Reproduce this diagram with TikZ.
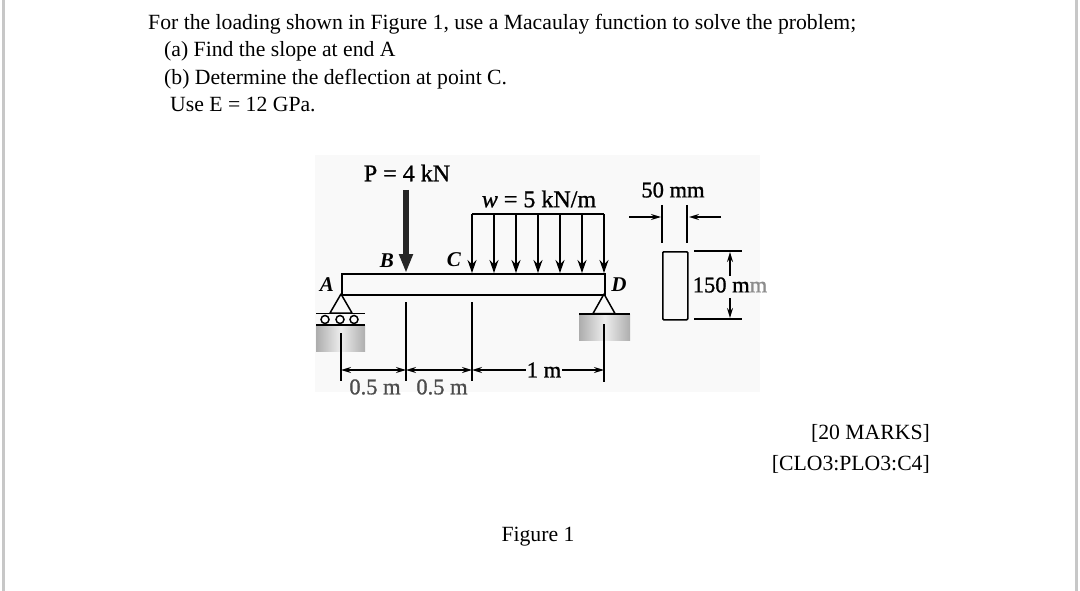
\documentclass[tikz,border=0pt]{standalone}
\usepackage{fontspec}
\usetikzlibrary{arrows.meta,calc}
\newfontfamily\pagefont{Liberation Serif}
\newfontfamily\figfont[FakeBold=1]{Liberation Serif}
\definecolor{figbg}{HTML}{F9F9F9}
\tikzset{
    pagetext/.style={inner sep=0pt, font=\pagefont\fontsize{21.7}{26}\selectfont},
    figtext/.style={inner sep=0pt, font=\figfont\fontsize{22.5}{24}\selectfont},
    loadtext/.style={inner sep=0pt, font=\figfont\fontsize{24}{26}\selectfont},
    pointtext/.style={inner sep=0pt, font=\pagefont\bfseries\itshape\fontsize{21}{24}\selectfont},
    dimtext/.style={inner sep=1pt, fill=figbg, font=\figfont\fontsize{22.5}{24}\selectfont},
    block/.style={inner sep=0pt, left color=black!32, right color=black!32, middle color=black!7},
    loadarrow/.style={-{Stealth[length=13pt,width=9pt]}, line width=1.5pt},
    dimarrow/.style={{Stealth[length=10pt,width=6pt]}-{Stealth[length=10pt,width=6pt]}, line width=1.4pt},
    onearrow/.style={-{Stealth[length=10pt,width=6pt]}, line width=1.4pt},
    edge/.style={line width=1.5pt}
}
\begin{document}
\begin{tikzpicture}[x=1pt, y=-1pt]
    \useasboundingbox (0,0) rectangle (1080,591);

    \fill[black!22] (2,0) rectangle (5,591);
    \fill[black!22] (1075,0) rectangle (1078,591);
    \fill[figbg] (315,155) rectangle (760,392);

    \node[pagetext, anchor=base west] (line1) at (148,30) {For the loading shown in Figure 1, use a Macaulay function to solve the problem;};
    \node[pagetext, anchor=base west] (line2) at (164,57) {(a) Find the slope at end A};
    \node[pagetext, anchor=base west] (line3) at (164,85) {(b) Determine the deflection at point C.};
    \node[pagetext, anchor=base west] (line4) at (170,112) {Use E = 12 GPa.};
    \node[pagetext, anchor=base east] (marks) at (930,439) {[20 MARKS]};
    \node[pagetext, anchor=base east] (clo) at (930,470) {[CLO3:PLO3:C4]};
    \node[pagetext, anchor=base] (figname) at (538,541) {Figure 1};

    % beam
    \node[draw, edge, minimum width=263pt, minimum height=21pt, inner sep=0pt, anchor=north west] (beam) at (341,273) {};
    \coordinate (A) at (341,294);
    \coordinate (B) at (406,273);
    \coordinate (C) at (472,273);
    \coordinate (D) at (604,294);

    % point load
    \coordinate (Ptop) at (406,190);
    \draw[line width=5.5pt, -{Stealth[length=19pt,width=13pt,inset=0pt]}, black!85] (Ptop) -- (B);
    \node[loadtext] (Plabel) at (407,173) {P = 4 kN};

    % distributed load
    \coordinate (wleft) at (472,214);
    \coordinate (wright) at (604,214);
    \draw[edge] (wleft) -- (wright);
    \foreach \i in {0,...,6} {
        \draw[loadarrow] ($(wleft)+(22*\i,0)$) -- ($(C)+(22*\i,0)$);
    }
    \node[loadtext] (wlabel) at (539,199) {\textit{w} = 5 kN/m};

    \node[pointtext] (Alabel) at (327,285) {A};
    \node[pointtext] (Blabel) at (387,261) {B};
    \node[pointtext] (Clabel) at (454,260) {C};
    \node[pointtext] (Dlabel) at (619,285) {D};

    % support at A
    \node[block, minimum width=49pt, minimum height=26pt, anchor=north west] (blockA) at (316,325) {};
    \draw[edge, line join=round] (A) -- (330,313) -- (352,313) -- cycle;
    \draw[edge] (316,313.5) -- (365,313.5);
    \draw[edge] (316,325) -- (365,325);
    \foreach \x in {325,340,354} {
        \draw[edge, fill=white] (\x,319.5) circle (4pt);
    }

    % support at D
    \node[block, minimum width=51pt, minimum height=26pt, anchor=north west] (blockD) at (579,314) {};
    \draw[edge, line join=round] (D) -- (593,313.5) -- (615,313.5) -- cycle;
    \draw[edge] (579,314) -- (630,314);

    % dimensions along the beam
    \coordinate (dimA) at (341,370);
    \coordinate (dimB) at (406,370);
    \coordinate (dimC) at (472,370);
    \coordinate (dimD) at (604,370);
    \draw[edge] (341,333) -- (341,381);
    \draw[edge] (406,302) -- (406,381);
    \draw[edge] (472,302) -- (472,381);
    \draw[edge] (604,324) -- (604,382);
    \draw[dimarrow] (dimA) -- (dimB);
    \draw[dimarrow] (dimB) -- (dimC);
    \node[dimtext] (onem) at (544,370) {1 m};
    \draw[onearrow] (onem) -- (dimC);
    \draw[onearrow] (onem) -- (dimD);
    \node[figtext, text=black!70] (halfA) at (375,387) {0.5 m};
    \node[figtext, text=black!70] (halfB) at (442,387) {0.5 m};

    % cross section
    \node[draw, edge, rounded corners=1pt, minimum width=25pt, minimum height=68pt, inner sep=0pt, anchor=north west] (section) at (662,251) {};
    \draw[edge] (662,205) -- (662,243);
    \draw[edge] (687,205) -- (687,243);
    \coordinate (widthL) at (661,217);
    \coordinate (widthR) at (689,217);
    \coordinate (widthLfar) at (629,217);
    \coordinate (widthRfar) at (721,217);
    \draw[onearrow] (widthLfar) -- (widthL);
    \draw[onearrow] (widthRfar) -- (widthR);
    \node[figtext] (widthlabel) at (673,190) {50 mm};

    \coordinate (heightT) at (730,252);
    \coordinate (heightB) at (730,318);
    \draw[edge] (694,251) -- (742,251);
    \draw[edge] (694,319) -- (742,319);
    \node[figtext] (heightlabel) at (730,285) {150 m\textcolor{black!45}{m}};
    \draw[onearrow] (730,276) -- (heightT);
    \draw[onearrow] (730,298) -- (heightB);
\end{tikzpicture}
\end{document}
